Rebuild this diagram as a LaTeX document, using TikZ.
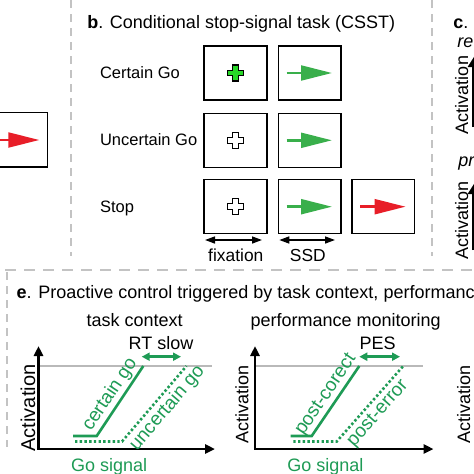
\documentclass[tikz,border=0pt]{standalone}
\usepackage{fontspec}
\setmainfont{Liberation Sans}
\usetikzlibrary{arrows.meta}
\definecolor{sgreen}{RGB}{57,175,75}
\definecolor{egreen}{RGB}{30,155,85}
\definecolor{sred}{RGB}{232,30,40}
\definecolor{crossgreen}{RGB}{40,215,40}
\definecolor{sepgray}{RGB}{195,195,195}
\definecolor{thrgray}{RGB}{185,185,185}
\newcommand\ftitle{\fontsize{18}{21}\selectfont}
\newcommand\flab{\fontsize{16.5}{19}\selectfont}
\newcommand\fsm{\fontsize{17.4}{20}\selectfont}
\newcommand\fgr{\fontsize{19}{22}\selectfont}
\newcommand\factA{\fontsize{20}{22}\selectfont}
\begin{document}
\begin{tikzpicture}[x=1pt,y=-1pt,
  sepv/.style={draw=sepgray, line width=1.3pt, dash pattern=on 8pt off 6pt},
  seph/.style={draw=sepgray, line width=1.3pt, dash pattern=on 11pt off 8pt},
  stim/.style={draw=black, line width=1.4pt, fill=white, minimum width=62.7pt, minimum height=54pt, inner sep=0pt},
  txt/.style={inner sep=0pt, outer sep=0pt},
  ttl/.style={txt, font=\ftitle},
  rowlab/.style={txt, font=\flab, anchor=base west},
  actlab/.style={txt, rotate=90, anchor=base},
  gtxt/.style={txt, font=\fgr, text=egreen},
  dbl/.style={line width=1.5pt, {Triangle[length=10pt,width=7pt]}-{Triangle[length=10pt,width=7pt]}},
  axis/.style={line width=2.5pt, {Triangle[length=10pt,width=9pt]}-{Triangle[length=10pt,width=9pt]}},
  thr/.style={draw=thrgray, line width=2.5pt},
  gline/.style={draw=egreen, line width=2.6pt},
  gdot/.style={draw=egreen, line width=2.6pt, dash pattern=on 2.4pt off 2.3pt},
  garr/.style={draw=egreen, line width=2.5pt, {Triangle[length=8pt,width=8pt]}-{Triangle[length=8pt,width=8pt]}},
  bigarr/.style={line width=6pt, -{Triangle[length=11pt,width=13pt]}},
  pics/stimarrow/.style={code={
    \fill (-8.7,-7.8) -- (22,0) -- (-8.7,7.8) -- cycle;
    \draw[line width=2.8pt] (-23,0) -- (-8,0);}},
  pics/crossmark/.style={code={
    \filldraw[fill=#1, draw=black, line width=1.1pt]
      (-2.8,-8) -- (2.8,-8) -- (2.8,-2.8) -- (8,-2.8) -- (8,2.8) -- (2.8,2.8)
      -- (2.8,8) -- (-2.8,8) -- (-2.8,2.8) -- (-8,2.8) -- (-8,-2.8) -- (-2.8,-2.8) -- cycle;}}
]
\useasboundingbox (0,0) rectangle (474,474);
\fill[white] (0,0) rectangle (474,474);

% separators
\draw[sepv] (71,0) -- (71,256);
\draw[sepv] (432,0) -- (432,256);
\draw[seph] (5,270) -- (474,270);
\draw[sepv] (7,272) -- (7,447);

% panel a remnant
\draw[line width=1.4pt, fill=white] (-5,112.7) rectangle (47.7,167);
\pic[color=sred] at (17,140) {stimarrow};

% panel b
\node[ttl, anchor=base west] (btitle) at (87.3,28.3) {\textbf{b}. Conditional stop-signal task (CSST)};
\node[rowlab] (lcg) at (100,78.3) {Certain Go};
\node[rowlab] (lug) at (100,145) {Uncertain Go};
\node[rowlab] (lst) at (100,212.3) {Stop};

\node[stim] (b11) at (235.5,73) {};
\node[stim] (b12) at (309.7,73) {};
\node[stim] (b21) at (235.5,140.3) {};
\node[stim] (b22) at (309.7,140.3) {};
\node[stim] (b31) at (235.5,206.7) {};
\node[stim] (b32) at (309.7,206.7) {};
\node[stim] (b33) at (383.3,206.7) {};

\pic at (b11) {crossmark=crossgreen};
\pic at (b21) {crossmark=white};
\pic at (b31) {crossmark=white};
\pic[color=sgreen] at (b12) {stimarrow};
\pic[color=sgreen] at (b22) {stimarrow};
\pic[color=sgreen] at (b32) {stimarrow};
\pic[color=sred] at (b33) {stimarrow};

\coordinate (fx1) at (205,240);
\coordinate (fx2) at (262,240);
\coordinate (sd1) at (279.3,240);
\coordinate (sd2) at (335,240);
\draw[dbl] (fx1) -- (fx2);
\draw[dbl] (sd1) -- (sd2);
\node[txt, font=\fsm, anchor=base] (lfix) at (235.8,261.7) {fixation};
\node[txt, font=\fsm, anchor=base] (lssd) at (307.8,261.7) {SSD};

% panel c remnant
\node[ttl, anchor=base west] (ctitle) at (453.3,28) {\textbf{c}.};
\node[ttl, anchor=base west] (cre) at (457.3,47.3) {\textit{re}};
\node[ttl, anchor=base west] (cpr) at (458.3,166) {\textit{pr}};
\node[actlab, font=\ftitle] (cact1) at (468,95) {Activation};
\node[actlab, font=\ftitle] (cact2) at (468,220) {Activation};
\coordinate (ca1) at (474.5,127);
\coordinate (ca2) at (474.5,56);
\coordinate (cb1) at (474.5,250);
\coordinate (cb2) at (474.5,183);
\draw[bigarr] (ca1) -- (ca2);
\draw[bigarr] (cb1) -- (cb2);

% panel e
\node[ttl, anchor=base west] (etitle) at (16.7,298.3) {\textbf{e}. Proactive control triggered by task context, performanc};

% sub-panel 1
\node[ttl, anchor=base] (tc) at (134.7,326.5) {task context};
\node[ttl, anchor=base] (rts) at (161,349) {RT slow};
\coordinate (o1) at (38.5,449);
\coordinate (y1) at (38.5,346);
\coordinate (x1) at (215,449);
\draw[thr] (38.5,366) -- (212,366);
\draw[axis] (y1) -- (o1) -- (x1);
\coordinate (s1a) at (73,436);
\coordinate (s1b) at (96.7,436);
\coordinate (s1c) at (143.3,366);
\draw[gline] (s1a) -- (s1b) -- (s1c);
\coordinate (d1a) at (75,441.5);
\coordinate (d1b) at (122,441.5);
\coordinate (d1c) at (186.5,366);
\draw[gdot] (d1a) -- (d1b) -- (d1c);
\coordinate (r1a) at (141.7,356.7);
\coordinate (r1b) at (181,356.7);
\draw[garr] (r1a) -- (r1b);
\path (s1b) -- (s1c) node[gtxt, pos=0.5, sloped, above=3pt] (lcert) {certain go};
\path (d1b) -- (d1c) node[gtxt, pos=0.55, sloped, below=4pt] (lunc) {uncertain go};
\node[gtxt, anchor=base, font=\ftitle] (gs1) at (109.2,471) {Go signal};
\node[actlab, font=\factA] (eact1) at (35,408) {Activation};

% sub-panel 2
\node[ttl, anchor=base] (pm) at (345.7,326.5) {performance monitoring};
\node[ttl, anchor=base] (pes) at (377.7,349) {PES};
\coordinate (o2) at (255,449);
\coordinate (y2) at (255,346);
\coordinate (x2) at (433.5,449);
\draw[thr] (255,366) -- (422.7,366);
\draw[axis] (y2) -- (o2) -- (x2);
\coordinate (s2a) at (290.7,436);
\coordinate (s2b) at (311.7,436);
\coordinate (s2c) at (359.3,366);
\draw[gline] (s2a) -- (s2b) -- (s2c);
\coordinate (d2a) at (293.3,441.5);
\coordinate (d2b) at (336.7,441.5);
\coordinate (d2c) at (403.3,366);
\draw[gdot] (d2a) -- (d2b) -- (d2c);
\coordinate (r2a) at (359.3,356.7);
\coordinate (r2b) at (400,356.7);
\draw[garr] (r2a) -- (r2b);
\path (s2b) -- (s2c) node[gtxt, pos=0.5, sloped, above=3pt] (lpc) {post-corect};
\path (d2b) -- (d2c) node[gtxt, pos=0.48, sloped, below=4.5pt] (lpe) {post-error};
\node[gtxt, anchor=base, font=\ftitle] (gs2) at (325.5,471) {Go signal};
\node[actlab, font=\ftitle] (eact2) at (248.3,404) {Activation};

% sub-panel 3 remnant
\node[actlab, font=\ftitle] (eact3) at (470,404) {Activation};
\end{tikzpicture}
\end{document}
